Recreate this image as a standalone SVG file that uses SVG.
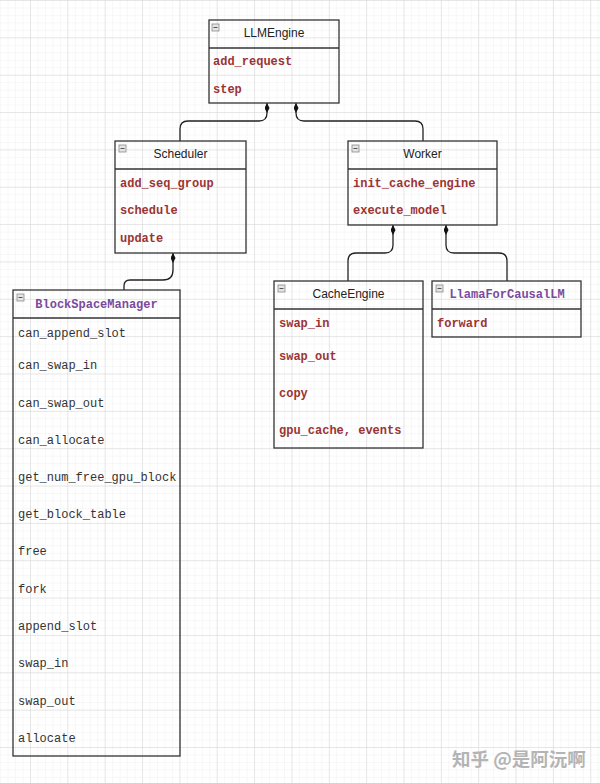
<svg xmlns="http://www.w3.org/2000/svg" width="600" height="783" viewBox="0 0 600 783">
<defs>
<pattern id="minor" x="30" y="0" width="7.47" height="7.47" patternUnits="userSpaceOnUse">
<path d="M0,0 H7.47 M0,0 V7.47" stroke="#f0f0f0" stroke-width="1" fill="none"/>
</pattern>
<pattern id="major" x="30" y="0" width="37.35" height="37.35" patternUnits="userSpaceOnUse">
<path d="M0,0 H37.35 M0,0 V37.35" stroke="#d6d6d6" stroke-width="1" fill="none"/>
</pattern>
<marker id="dia" viewBox="0 0 10 5" refX="0" refY="2.5" markerWidth="10" markerHeight="5" markerUnits="userSpaceOnUse" orient="auto">
<path d="M0,2.5 L5,0 L10,2.5 L5,5 Z" fill="#111"/>
</marker>
<g id="icon">
<rect x="0" y="0" width="7" height="7" fill="#e4e4e4" stroke="#8a8a8a" stroke-width="0.8"/>
<path d="M1.5,3.5 H5.5" stroke="#555" stroke-width="1"/>
</g>
</defs>
<style>
.box{fill:none;stroke:#333;stroke-width:1.3}
.sep{stroke:#333;stroke-width:1.3}
.title{font-family:"Liberation Sans",Arial,sans-serif;font-size:12px;fill:#222;text-anchor:middle}
.ptitle{font-family:"Liberation Mono","DejaVu Sans Mono",monospace;font-size:12px;font-weight:bold;fill:#7b4a9e;text-anchor:middle}
.m{font-family:"Liberation Mono","DejaVu Sans Mono",monospace;font-size:12px;font-weight:bold;fill:#9a3434}
.r{font-family:"Liberation Mono","DejaVu Sans Mono",monospace;font-size:12px;fill:#333}
.conn{fill:none;stroke:#222;stroke-width:1.3;marker-start:url(#dia)}
.wm{font-family:"Noto Sans CJK SC",sans-serif;font-size:18.5px;font-weight:bold;fill:#b4b4b4}
</style>
<rect width="600" height="783" fill="#ffffff"/>
<rect width="600" height="783" fill="url(#minor)"/>
<rect width="600" height="783" fill="url(#major)"/>

<g id="connectors">
<path class="conn" d="M267,103 V113 Q267,121 259,121 H188 Q180,121 180,129 V141"/>
<path class="conn" d="M296,103 V113 Q296,121 304,121 H415 Q423,121 423,129 V141"/>
<path class="conn" d="M173,253 V270 Q173,280 163,280 H130 Q124,280 124,286 V290"/>
<path class="conn" d="M393,225 V245 Q393,253 385,253 H356 Q348,253 348,261 V281"/>
<path class="conn" d="M446,225 V245 Q446,253 454,253 H499 Q507,253 507,261 V281"/>
</g>

<g id="LLMEngine">
<rect class="box" x="209" y="20" width="130" height="83"/>
<line class="sep" x1="209" y1="48" x2="339" y2="48"/>
<use href="#icon" x="212" y="24"/>
<text class="title" x="274" y="37">LLMEngine</text>
<text class="m" x="213" y="65">add_request</text>
<text class="m" x="213" y="93">step</text>
</g>

<g id="Scheduler">
<rect class="box" x="115" y="141" width="131" height="112"/>
<line class="sep" x1="115" y1="169" x2="246" y2="169"/>
<use href="#icon" x="119" y="145"/>
<text class="title" x="180.5" y="158">Scheduler</text>
<text class="m" x="120" y="187">add_seq_group</text>
<text class="m" x="120" y="214">schedule</text>
<text class="m" x="120" y="242">update</text>
</g>

<g id="Worker">
<rect class="box" x="348" y="141" width="149" height="84"/>
<line class="sep" x1="348" y1="169" x2="497" y2="169"/>
<use href="#icon" x="352" y="145"/>
<text class="title" x="422.5" y="158">Worker</text>
<text class="m" x="353" y="187">init_cache_engine</text>
<text class="m" x="353" y="214">execute_model</text>
</g>

<g id="BlockSpaceManager">
<rect class="box" x="13" y="290" width="167" height="466"/>
<line class="sep" x1="13" y1="318" x2="180" y2="318"/>
<use href="#icon" x="17" y="294"/>
<text class="ptitle" x="96.5" y="308">BlockSpaceManager</text>
<text class="r" x="18" y="337">can_append_slot</text>
<text class="r" x="18" y="369">can_swap_in</text>
<text class="r" x="18" y="406.5">can_swap_out</text>
<text class="r" x="18" y="444">can_allocate</text>
<text class="r" x="18" y="481">get_num_free_gpu_block</text>
<text class="r" x="18" y="518">get_block_table</text>
<text class="r" x="18" y="555">free</text>
<text class="r" x="18" y="592.5">fork</text>
<text class="r" x="18" y="630">append_slot</text>
<text class="r" x="18" y="667">swap_in</text>
<text class="r" x="18" y="704.5">swap_out</text>
<text class="r" x="18" y="742">allocate</text>
</g>

<g id="CacheEngine">
<rect class="box" x="274" y="281" width="149" height="167"/>
<line class="sep" x1="274" y1="309" x2="423" y2="309"/>
<use href="#icon" x="278" y="285"/>
<text class="title" x="348.5" y="298">CacheEngine</text>
<text class="m" x="279" y="327">swap_in</text>
<text class="m" x="279" y="360">swap_out</text>
<text class="m" x="279" y="397">copy</text>
<text class="m" x="279" y="434">gpu_cache, events</text>
</g>

<g id="LlamaForCausalLM">
<rect class="box" x="432" y="281" width="149" height="56"/>
<line class="sep" x1="432" y1="309" x2="581" y2="309"/>
<use href="#icon" x="436" y="285"/>
<text class="ptitle" x="507" y="298">LlamaForCausalLM</text>
<text class="m" x="437" y="327">forward</text>
</g>

<text class="wm" x="452" y="766">知乎 @是阿沅啊</text>
</svg>
